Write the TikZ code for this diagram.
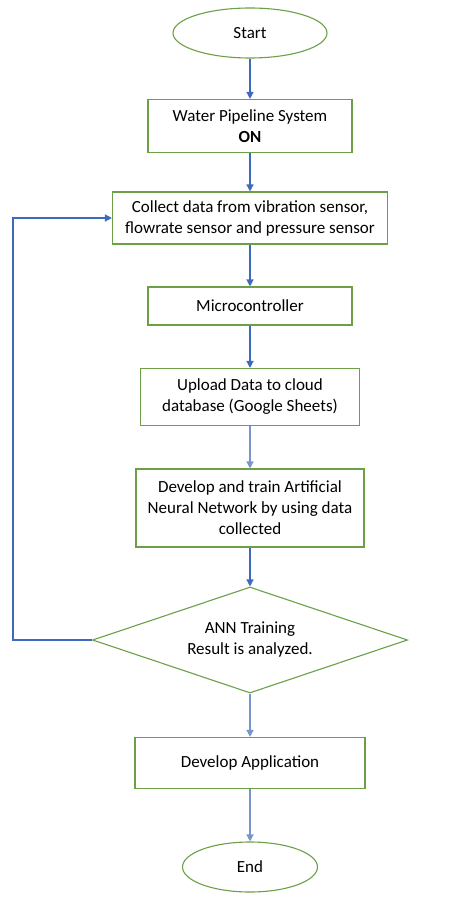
\documentclass[tikz,border=0pt]{standalone}
\usepackage{fontspec}
\setmainfont{Carlito}
\usetikzlibrary{shapes.geometric,arrows.meta}
\definecolor{boxgreen}{RGB}{108,160,70}
\definecolor{arrowblue}{RGB}{62,106,190}
\definecolor{paleblue}{RGB}{120,150,205}
\tikzset{
	procbox/.style={draw=boxgreen, line width=1.1pt, align=center, inner sep=0pt, text=black},
	termnode/.style={ellipse, draw=boxgreen, line width=1.1pt, inner sep=0pt, text=black},
	decnode/.style={diamond, aspect=2.97, draw=boxgreen, line width=1.1pt, align=center, inner sep=0pt, text=black},
	flowarrow/.style={draw=arrowblue, line width=1.4pt, -{Triangle[width=7pt,length=7pt]}},
}

\begin{document}
\begin{tikzpicture}[x=1pt, y=1pt, font=\fontsize{17}{21}\selectfont]
		%%%%% START %%%%%
		\useasboundingbox (0, 0) rectangle (474, -901);
		
		\node[termnode, minimum width=154pt, minimum height=50pt] (start) at (250, -33) {Start};
		\node[procbox, minimum width=204pt, minimum height=53pt] (pipe) at (250, -126) {Water Pipeline System\\\textbf{ON}};
		\node[procbox, minimum width=275pt, minimum height=52pt] (collect) at (250, -218) {Collect data from vibration sensor,\\flowrate sensor and pressure sensor};
		\node[procbox, minimum width=204pt, minimum height=38pt] (micro) at (250, -306) {Microcontroller};
		\node[procbox, minimum width=219pt, minimum height=57pt] (upload) at (250, -397) {Upload Data to cloud\\database (Google Sheets)};
		\node[procbox, minimum width=228pt, minimum height=78pt] (train) at (250, -508) {Develop and train Artificial\\Neural Network by using data\\collected};
		\node[decnode, minimum width=315pt, minimum height=106pt] (result) at (250, -640) {ANN Training\\Result is analyzed.};
		\node[procbox, minimum width=230pt, minimum height=51pt] (app) at (250, -763) {Develop Application};
		\node[termnode, minimum width=135pt, minimum height=50pt] (end) at (250, -867) {End};
		
		\draw[flowarrow] (start) -- (pipe);
		\draw[flowarrow] (pipe) -- (collect);
		\draw[flowarrow] (collect) -- (micro);
		\draw[flowarrow] (micro) -- (upload);
		\draw[flowarrow, draw=paleblue] (upload) -- (train);
		\draw[flowarrow] (train) -- (result.north);
		\draw[flowarrow, draw=paleblue] (result.south) -- (app);
		\draw[flowarrow, draw=paleblue] (app) -- (end);
		
		% loop back from the decision
		\coordinate (back) at (13, -640);
		\draw[flowarrow] (result.west) -- (back) |- (collect.west);
		
		%%%%% END %%%%%
	\end{tikzpicture}
\end{document}
